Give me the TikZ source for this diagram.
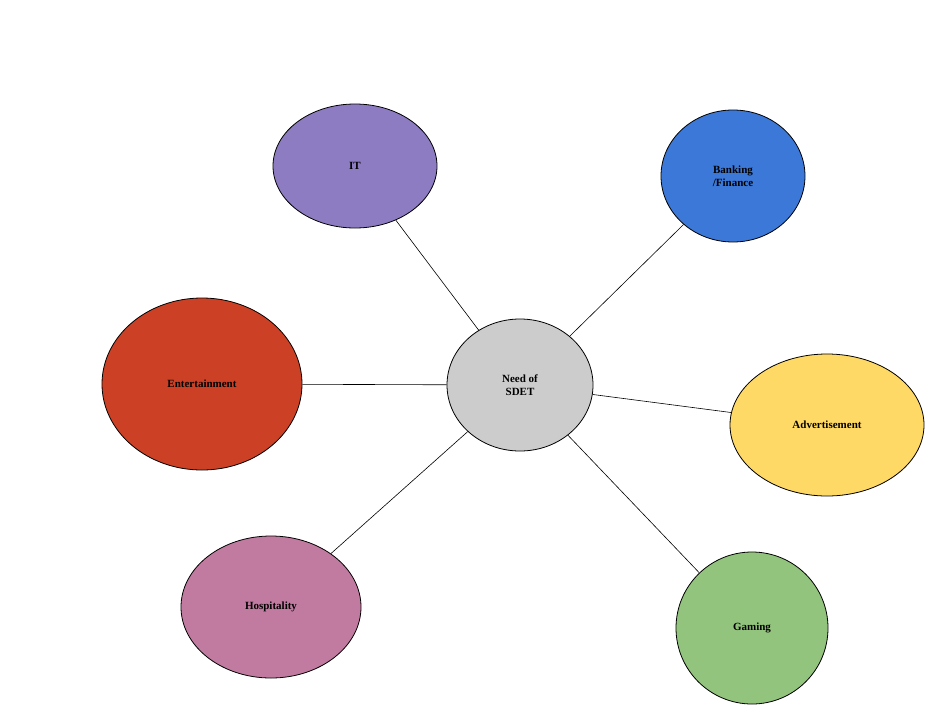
\documentclass[tikz,border=0pt]{standalone}
\usepackage{fontspec}
\setmainfont{Liberation Serif}
\usetikzlibrary{shapes.geometric}
\definecolor{cit}{HTML}{8E7CC3}
\definecolor{cbank}{HTML}{3C78D8}
\definecolor{cent}{HTML}{CC4125}
\definecolor{cmid}{HTML}{CCCCCC}
\definecolor{cadv}{HTML}{FFD966}
\definecolor{chos}{HTML}{C27BA0}
\definecolor{cgam}{HTML}{93C47D}
\begin{document}
\begin{tikzpicture}[x=1pt,y=-1pt,
  bub/.style={ellipse,draw=black,line width=0.8pt,inner sep=0pt,align=center,font=\bfseries\fontsize{11pt}{13pt}\selectfont},
  link/.style={draw=black,line width=0.6pt}]
\useasboundingbox[fill=white] (0,0) rectangle (947,707);
\node[bub,fill=cit,minimum width=164pt,minimum height=124pt] (it) at (355,166) {IT};
\node[bub,fill=cbank,minimum width=144pt,minimum height=132pt] (bank) at (733,176) {Banking\\/Finance};
\node[bub,fill=cent,minimum width=200pt,minimum height=172pt] (ent) at (202,384) {Entertainment};
\node[bub,fill=cmid,minimum width=146pt,minimum height=132pt] (mid) at (520,385) {Need of\\SDET};
\node[bub,fill=cadv,minimum width=194pt,minimum height=142pt] (adv) at (827,425) {Advertisement};
\node[bub,fill=chos,minimum width=180pt,minimum height=142pt] (hos) at (271,607) {Hospitality};
\node[bub,fill=cgam,minimum width=152pt,minimum height=152pt] (gam) at (752,628) {Gaming};
\draw[link] (mid) -- (it);
\draw[link] (mid) -- (bank);
\draw[link] (mid) -- (ent);
\draw[link] (mid) -- (adv);
\draw[link] (mid) -- (hos);
\draw[link] (mid) -- (gam);
\end{tikzpicture}
\end{document}
